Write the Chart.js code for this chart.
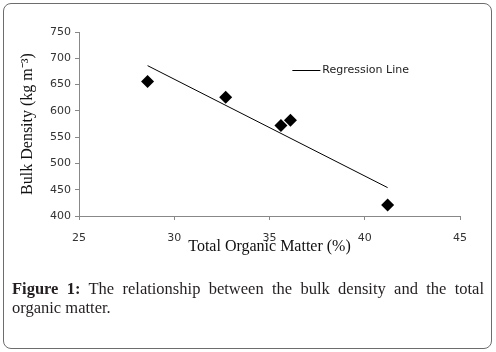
<!DOCTYPE html>
<html>
<head>
<meta charset="utf-8">
<script src="https://cdn.jsdelivr.net/npm/chart.js@4"></script>
<style>
  html, body { margin: 0; padding: 0; background: #fff; }
  #wrap { position: relative; width: 496px; height: 352px; overflow: hidden; }
  #frame { position: absolute; left: 3px; top: 3px; width: 487px; height: 344px;
           border: 1px solid #6d6d6d; border-radius: 8px; box-sizing: content-box; }
  #myChart { position: absolute; left: 0; top: 0; }
  #caption { position: absolute; left: 12px; top: 279px; width: 472px;
             font-family: "Liberation Serif", serif; font-size: 16.5px; line-height: 19px;
             color: #231f20; text-align: justify; }
</style>
</head>
<body>
<div id="wrap">
  <div id="frame"></div>
  <canvas id="myChart" width="496" height="352"></canvas>
  <div id="caption"><b>Figure 1:</b> The relationship between the bulk density and the total organic matter.</div>
</div>
<script>
// measured samples
const organicMatter = [28.6, 32.7, 35.6, 36.1, 41.2];
const bulkDensity = [656, 626, 572, 582, 421];

// fitted line end points
const lineX = [28.6, 41.2];
const lineY = [686, 454];

const xTicks = [25, 30, 35, 40, 45];
const yTicks = [400, 450, 500, 550, 600, 650, 700, 750];

const points = organicMatter.map((x, i) => ({ x: x, y: bulkDensity[i] }));
const regLine = lineX.map((x, i) => ({ x: x, y: lineY[i] }));

// legend drawn inside the plot, like the original
const innerLegend = {
  id: 'innerLegend',
  afterDraw(chart) {
    const c = chart.ctx;
    const a = chart.chartArea;
    const x = a.left + 0.56 * (a.right - a.left);
    const y = a.top + 38;
    c.save();
    c.strokeStyle = '#000';
    c.lineWidth = 1;
    c.beginPath();
    c.moveTo(x, y + 0.5);
    c.lineTo(x + 28, y + 0.5);
    c.stroke();
    c.fillStyle = '#222';
    c.font = '11px "DejaVu Sans"';
    c.textBaseline = 'middle';
    c.fillText(chart.data.datasets[1].label, x + 30, y);
    c.restore();
  }
};

const ctx = document.getElementById('myChart').getContext('2d');

const chart = new Chart(ctx, {
  type: 'scatter',
  data: {
    datasets: [{
      label: 'Bulk Density',
      data: points,
      pointStyle: 'rectRot',
      pointRadius: 6.5,
      backgroundColor: '#000',
      borderColor: '#000',
      borderWidth: 0
    }, {
      label: 'Regression Line',
      data: regLine,
      showLine: true,
      pointRadius: 0,
      borderColor: '#000',
      borderWidth: 1
    }]
  },
  options: {
    responsive: false,
    animation: false,
    layout: { padding: { left: 18, top: 32, right: 36, bottom: 96 } },
    plugins: { legend: { display: false }, tooltip: { enabled: false } },
    scales: {
      x: {
        type: 'linear',
        min: 25, max: 45,
        afterBuildTicks: s => { s.ticks = xTicks.map(v => ({ value: v })); },
        afterFit: s => { s.height = 40; },
        grid: { drawOnChartArea: false, tickLength: 4, color: '#888' },
        border: { color: '#888' },
        ticks: { padding: 12, color: '#333', font: { family: 'DejaVu Sans', size: 11 } },
        title: { display: true, text: 'Total Organic Matter (%)', color: '#111',
                 padding: { top: -16, bottom: 0 },
                 font: { family: 'Liberation Serif', size: 16 } }
      },
      y: {
        min: 400, max: 750,
        afterBuildTicks: s => { s.ticks = yTicks.map(v => ({ value: v })); },
        afterFit: s => { s.width = 61; },
        grid: { drawOnChartArea: false, tickLength: 4, color: '#888' },
        border: { color: '#888' },
        ticks: { padding: 4, color: '#333', font: { family: 'DejaVu Sans', size: 11 } },
        title: { display: true, text: 'Bulk Density (kg m\u207B\u00B3)', color: '#111',
                 padding: { top: 0, bottom: 4 },
                 font: { family: 'Liberation Serif', size: 16 } }
      }
    }
  },
  plugins: [innerLegend]
});
</script>
</body>
</html>
